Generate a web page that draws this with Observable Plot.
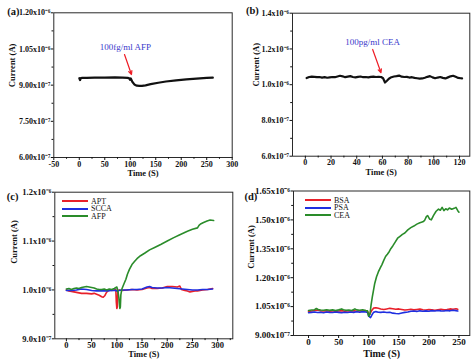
<!DOCTYPE html>
<html><head><meta charset="utf-8">
<script src="https://cdn.jsdelivr.net/npm/d3@7"></script>
<script src="https://cdn.jsdelivr.net/npm/@observablehq/plot@0.6"></script>
<style>
body{margin:0;background:#fff;}
#fig{position:relative;width:474px;height:361px;overflow:hidden;background:#fff;}
.panel{position:absolute;}
.legend{position:absolute;font-family:"Liberation Serif",serif;font-size:8px;color:#111;}
.legend .row{display:flex;align-items:center;height:7.7px;}
.legend .sw{display:inline-block;width:26px;height:2px;margin-right:3px;}
</style></head><body><div id="fig"></div>
<script>
// ---------- Panel (a): 100fg/ml AFP, current in units of 1e-6 A ----------
const aTime = [0,1.5,3,6,15,30,50,70,85,95,98,99.5,101,104,108,113,118,123,130,140,155,170,190,210,230,250,262];
const aCurrent = [0.929,0.921,0.929,0.930,0.930,0.931,0.931,0.932,0.931,0.930,0.928,0.922,0.928,0.914,0.903,0.898,0.897,0.897,0.899,0.904,0.910,0.915,0.920,0.924,0.927,0.930,0.931];
const aXTicks = [-50,0,50,100,150,200,250,300];
const aXMinor = [-25,25,75,125,175,225,275];
const aYTicks = [0.6,0.75,0.9,1.05,1.2];
const aYLabels = ["6.00x10⁻⁷","7.50x10⁻⁷","9.00x10⁻⁷","1.05x10⁻⁶","1.20x10⁻⁶"];
const aYMinor = [0.675,0.825,0.975,1.125];
const aNote = ["100fg/ml AFP"];
const aNotePos = [90.6, 1.056];
const aArrow = [88.7, 1.027, 102.4, 0.944];

// ---------- Panel (b): 100pg/ml CEA ----------
const bTime = [1,3,5,7,9,11,13,15,17,19,21,23,25,27,29,31,33,35,37,39,41,43,45,47,49,51,53,55,57,59,60.5,62,63.5,65,67,69,71,73,75,77,79,81,83,85,87,89,91,93,95,97,99,101,103,105,107,109,111,113,115,117,119,121,122];
const bCurrent = [1.037,1.043,1.045,1.044,1.042,1.043,1.040,1.042,1.039,1.041,1.043,1.042,1.046,1.050,1.047,1.042,1.045,1.048,1.043,1.041,1.044,1.046,1.042,1.043,1.041,1.044,1.045,1.043,1.044,1.043,1.036,1.012,1.022,1.033,1.042,1.046,1.048,1.051,1.045,1.043,1.044,1.040,1.042,1.038,1.036,1.034,1.035,1.039,1.044,1.048,1.041,1.036,1.040,1.043,1.038,1.035,1.041,1.047,1.050,1.044,1.038,1.036,1.035];
const bXTicks = [0,20,40,60,80,100,120];
const bXMinor = [10,30,50,70,90,110];
const bYTicks = [0.6,0.8,1.0,1.2,1.4];
const bYLabels = ["6.0x10⁻⁷","8.0x10⁻⁷","1.0x10⁻⁶","1.2x10⁻⁶","1.4x10⁻⁶"];
const bYMinor = [0.7,0.9,1.1,1.3];
const bNote = ["100pg/ml CEA"];
const bNotePos = [52.4, 1.236];
const bArrow = [52.4, 1.197, 58.9, 1.067];

// ---------- Panel (c): APT / SCCA / AFP ----------
const cAptTime = [0,5,10,15,20,25,30,40,50,55,60,65,70,73,76,79,82,86,90,95,98,99,100,101,102,105,110,120,130,140,150,160,165,170,180,190,200,210,220,225,228,235,240,245,250,255,260,270,280,290];
const cAptCurrent = [1.000,0.998,0.997,0.996,0.995,0.994,0.993,0.993,0.992,0.993,0.991,0.989,0.986,0.985,0.988,0.994,0.998,1.000,0.999,1.000,1.001,0.975,0.962,0.965,0.998,1.000,0.999,1.000,1.001,1.000,1.001,1.004,1.005,1.003,1.003,1.004,1.007,1.007,1.006,1.008,1.001,0.999,0.998,0.996,0.997,0.998,0.998,1.000,1.001,1.003];
const cSccaTime = [0,10,20,30,40,50,60,70,80,90,98,101,104,110,120,130,140,150,160,165,170,180,190,200,210,220,230,240,250,260,270,280,290];
const cSccaCurrent = [0.999,0.999,1.000,1.002,1.001,0.999,0.998,0.998,0.998,0.999,0.999,0.997,0.999,1.000,1.000,1.001,1.001,1.002,1.006,1.007,1.005,1.004,1.004,1.005,1.004,1.003,1.002,1.001,1.000,1.000,1.001,1.001,1.002];
const cAfpTime = [0,5,10,15,20,25,30,35,40,45,50,55,60,65,70,75,80,85,90,95,100,102,104,106,107,108,110,114,118,121,125,130,135,140,147,155,165,175,187,200,213,225,240,250,260,263,266,272,279,285,292];
const cAfpCurrent = [1.002,1.003,1.001,1.003,1.004,1.003,1.005,1.006,1.007,1.006,1.005,1.004,1.002,1.001,1.001,1.002,1.000,1.002,1.001,1.003,1.006,0.999,0.985,0.962,0.965,0.990,1.002,1.012,1.022,1.032,1.042,1.052,1.058,1.064,1.070,1.075,1.082,1.087,1.093,1.100,1.107,1.113,1.120,1.124,1.127,1.132,1.135,1.138,1.141,1.143,1.142];
const cXTicks = [0,50,100,150,200,250,300];
const cXMinor = [25,75,125,175,225,275,325];
const cYTicks = [0.9,1.0,1.1,1.2];
const cYLabels = ["9.0x10⁻⁷","1.0x10⁻⁶","1.1x10⁻⁶","1.2x10⁻⁶"];
const cYMinor = [0.95,1.05,1.15];
const cSeries = ["APT","SCCA","AFP"];

// ---------- Panel (d): BSA / PSA / CEA ----------
const dBsaTime = [0,5,10,15,20,25,30,35,40,45,50,55,60,65,70,75,80,85,90,95,98,100,102,105,108,112,116,120,125,130,135,140,145,150,155,160,165,170,175,180,185,190,195,200,205,210,215,220,225,230,235,240,245,248];
const dBsaCurrent = [1.025,1.027,1.030,1.033,1.028,1.027,1.029,1.026,1.028,1.025,1.027,1.029,1.026,1.028,1.027,1.029,1.026,1.028,1.027,1.029,1.026,1.010,1.012,1.030,1.042,1.044,1.041,1.038,1.035,1.038,1.041,1.039,1.036,1.038,1.035,1.032,1.034,1.036,1.033,1.035,1.037,1.034,1.032,1.035,1.033,1.031,1.034,1.036,1.033,1.035,1.038,1.036,1.039,1.036];
const dPsaTime = [0,5,10,15,20,25,30,35,40,45,50,55,60,65,70,75,80,85,90,95,98,100,103,105,108,112,116,120,125,130,135,140,145,150,155,160,165,170,175,180,185,190,195,200,205,210,215,220,225,230,235,240,245,248];
const dPsaCurrent = [1.018,1.020,1.022,1.019,1.021,1.018,1.022,1.020,1.019,1.022,1.020,1.018,1.021,1.019,1.022,1.020,1.023,1.021,1.024,1.022,1.020,1.000,0.993,1.005,1.020,1.024,1.021,1.020,1.022,1.019,1.021,1.016,1.014,1.013,1.017,1.020,1.022,1.026,1.027,1.025,1.028,1.026,1.028,1.026,1.029,1.027,1.030,1.028,1.027,1.030,1.028,1.031,1.029,1.027];
const dCeaTime = [0,5,10,13,16,20,25,30,35,40,45,50,55,58,62,67,72,77,80,85,90,95,98,100,102,104,106,108,110,113,116,119,122,125,128,131,134,137,140,144,148,152,156,160,165,170,175,180,185,190,193,196,198,201,204,208,212,216,219,222,225,228,231,234,238,242,245,248,250];
const dCeaCurrent = [1.030,1.032,1.034,1.040,1.035,1.032,1.031,1.034,1.031,1.033,1.030,1.033,1.038,1.034,1.031,1.032,1.030,1.038,1.033,1.031,1.034,1.030,1.028,1.000,1.010,1.060,1.100,1.135,1.170,1.205,1.230,1.250,1.268,1.290,1.310,1.322,1.335,1.352,1.365,1.385,1.405,1.415,1.425,1.432,1.448,1.460,1.468,1.478,1.485,1.490,1.498,1.518,1.522,1.505,1.500,1.525,1.545,1.556,1.550,1.565,1.548,1.558,1.552,1.562,1.555,1.560,1.565,1.548,1.540];
const dXTicks = [0,50,100,150,200,250];
const dXMinor = [25,75,125,175,225];
const dYTicks = [0.9,1.05,1.2,1.35,1.5,1.65];
const dYLabels = ["9.00x10⁻⁷","1.05x10⁻⁶","1.20x10⁻⁶","1.35x10⁻⁶","1.50x10⁻⁶","1.65x10⁻⁶"];
const dYMinor = [0.975,1.125,1.275,1.425,1.575];
const dSeries = ["BSA","PSA","CEA"];

const seriesColors = ["#e8202a","#1f2fe0","#2a8c2a"];
const noteColor = "#3a3acb";
const arrowColor = "#ee1c25";

const toRows = (t, v) => t.map((x, i) => ({t: x, v: v[i]}));

function panel(o) {
  const xt = o.xTicks, yt = o.yTicks;
  const marks = [
    Plot.frame({stroke: "#2a2a2a", strokeWidth: 1}),
    Plot.axisX(xt, {tickSize: 3, tickPadding: 0.5, fontSize: o.fs, label: null, tickFormat: d => String(d)}),
    Plot.axisX(o.xMinor, {tickSize: 1.8, label: null, tickFormat: () => ""}),
    Plot.axisY(yt, {tickSize: 2.5, tickPadding: 1, fontSize: o.fs, label: null, tickFormat: d => o.yLabels[yt.indexOf(d)]}),
    Plot.axisY(o.yMinor, {tickSize: 1.8, label: null, tickFormat: () => ""}),
    ...o.marks,
    Plot.text(["Time (S)"], {text: d => d, frameAnchor: "bottom", dy: o.xtDy, fontSize: o.xtFs, fontWeight: "bold"}),
    Plot.text(["Current (A)"], {text: d => d, frameAnchor: "left", rotate: -90, dx: o.ytDx, dy: o.ytDy, fontSize: 8.5, fontWeight: "bold"}),
    Plot.text([o.tag], {text: d => d, frameAnchor: "top-left", dx: o.tagDx, dy: o.tagDy, fontSize: 10.5, fontWeight: "bold"})
  ];
  const svg = Plot.plot({
    width: o.width, height: o.height,
    marginLeft: o.ml, marginRight: o.mr, marginTop: o.mt, marginBottom: o.mb,
    x: {domain: o.xDomain, axis: null},
    y: {domain: o.yDomain, axis: null},
    style: {fontFamily: "Liberation Serif, serif", fontWeight: "bold", background: "transparent", color: "#111", overflow: "visible"},
    marks
  });
  svg.classList.add("panel");
  svg.style.left = o.left + "px";
  svg.style.top = o.top + "px";
  document.getElementById("fig").appendChild(svg);
}

function noteMarks(note, pos, arr) {
  return [
    Plot.arrow([arr], {x1: d => d[0], y1: d => d[1], x2: d => d[2], y2: d => d[3], stroke: arrowColor, strokeWidth: 1.2, headLength: 5, headAngle: 50}),
    Plot.text(note, {x: () => pos[0], y: () => pos[1], text: d => d, fill: noteColor, fontSize: 9, fontWeight: "normal"})
  ];
}

function legend(names, left, top) {
  const div = document.createElement("div");
  div.className = "legend";
  div.style.left = left + "px";
  div.style.top = top + "px";
  names.forEach((n, i) => {
    const row = document.createElement("div");
    row.className = "row";
    const sw = document.createElement("span");
    sw.className = "sw";
    sw.style.background = seriesColors[i];
    row.appendChild(sw);
    row.appendChild(document.createTextNode(n));
    div.appendChild(row);
  });
  document.getElementById("fig").appendChild(div);
}

// (a)
panel({
  left: 0, top: 0, width: 237, height: 180, ml: 53.3, mr: 5.3, mt: 12.3, mb: 23,
  xDomain: [-50, 300], yDomain: [0.6, 1.2], xTicks: aXTicks, xMinor: aXMinor, yTicks: aYTicks, yLabels: aYLabels, yMinor: aYMinor,
  fs: 8, xtDy: 18, xtFs: 8.5, ytDx: -41.6, ytDy: 2, tag: "(a)", tagDx: -46.5, tagDy: -5.5,
  marks: [
    Plot.line(toRows(aTime, aCurrent), {x: "t", y: "v", stroke: "#111", strokeWidth: 2.2}),
    ...noteMarks(aNote, aNotePos, aArrow)
  ]
});
// (b)
panel({
  left: 237, top: 0, width: 237, height: 180, ml: 55, mr: 4.7, mt: 12.7, mb: 24.3,
  xDomain: [-10, 128], yDomain: [0.6, 1.4], xTicks: bXTicks, xMinor: bXMinor, yTicks: bYTicks, yLabels: bYLabels, yMinor: bYMinor,
  fs: 8, xtDy: 18.4, xtFs: 8.5, ytDx: -36.7, ytDy: 1.8, tag: "(b)", tagDx: -46.5, tagDy: -6.2,
  marks: [
    Plot.line(toRows(bTime, bCurrent), {x: "t", y: "v", stroke: "#111", strokeWidth: 2.2}),
    ...noteMarks(bNote, bNotePos, bArrow)
  ]
});
// (c)
panel({
  left: 0, top: 180, width: 237, height: 181, ml: 54.3, mr: 4.7, mt: 11.7, mb: 22.7,
  xDomain: [-23, 330], yDomain: [0.9, 1.2], xTicks: cXTicks, xMinor: cXMinor, yTicks: cYTicks, yLabels: cYLabels, yMinor: cYMinor,
  fs: 8.5, xtDy: 18.3, xtFs: 8.5, ytDx: -41, ytDy: -1.7, tag: "(c)", tagDx: -48, tagDy: 0,
  marks: [
    Plot.line(toRows(cAptTime, cAptCurrent), {x: "t", y: "v", stroke: seriesColors[0], strokeWidth: 1.6}),
    Plot.line(toRows(cSccaTime, cSccaCurrent), {x: "t", y: "v", stroke: seriesColors[1], strokeWidth: 1.6}),
    Plot.line(toRows(cAfpTime, cAfpCurrent), {x: "t", y: "v", stroke: seriesColors[2], strokeWidth: 1.6})
  ]
});
// (d)
panel({
  left: 237, top: 180, width: 237, height: 181, ml: 56, mr: 4.7, mt: 10.5, mb: 26,
  xDomain: [-25, 268], yDomain: [0.9, 1.65], xTicks: dXTicks, xMinor: dXMinor, yTicks: dYTicks, yLabels: dYLabels, yMinor: dYMinor,
  fs: 9, xtDy: 21.5, xtFs: 10, ytDx: -42, ytDy: 5.5, tag: "(d)", tagDx: -49, tagDy: 1.5,
  marks: [
    Plot.line(toRows(dBsaTime, dBsaCurrent), {x: "t", y: "v", stroke: seriesColors[0], strokeWidth: 1.6}),
    Plot.line(toRows(dPsaTime, dPsaCurrent), {x: "t", y: "v", stroke: seriesColors[1], strokeWidth: 1.6}),
    Plot.line(toRows(dCeaTime, dCeaCurrent), {x: "t", y: "v", stroke: seriesColors[2], strokeWidth: 1.6})
  ]
});
legend(cSeries, 62, 197.2);
legend(dSeries, 305, 196.2);
</script></body></html>
